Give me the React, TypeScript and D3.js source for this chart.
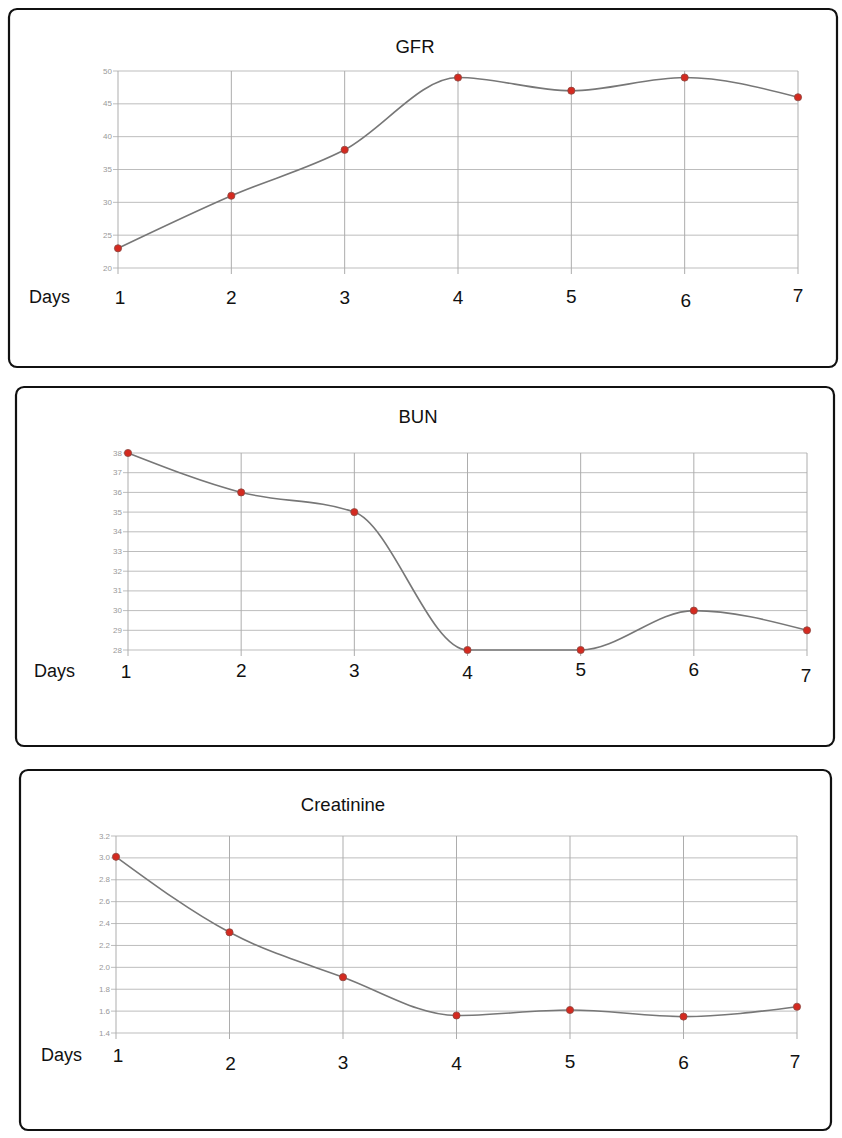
import * as d3 from 'd3';

const days = [1, 2, 3, 4, 5, 6, 7];

const gfrValues = [23, 31, 38, 49, 47, 49, 46];
const gfrTicks = [20, 25, 30, 35, 40, 45, 50];

const bunValues = [38, 36, 35, 28, 28, 30, 29];
const bunTicks = [28, 29, 30, 31, 32, 33, 34, 35, 36, 37, 38];

const creatinineValues = [3.01, 2.32, 1.91, 1.56, 1.61, 1.55, 1.64];
const creatinineTicks = [1.4, 1.6, 1.8, 2.0, 2.2, 2.4, 2.6, 2.8, 3.0, 3.2];

const W = 842;
const H = 1138;

type Panel = {
    title: string;
    values: number[];
    ticks: number[];
    fmt: (v: number) => string;
    box: [number, number, number, number];
    plot: [number, number, number, number]; // left, right, top, bottom
    titleX: number;
    titleY: number;
    daysX: number;
    labelY: number;
    labelDy: number[];
    labelDx: number[];
};

const panels: Panel[] = [
    {
        title: 'GFR',
        values: gfrValues,
        ticks: gfrTicks,
        fmt: d3.format('d'),
        box: [9, 9, 828, 358],
        plot: [118, 798, 71, 268],
        titleX: 415,
        titleY: 46,
        daysX: 29,
        labelY: 297,
        labelDy: [0, 0, 0, 0, -1, 3, -2],
        labelDx: [2, 0, 0, 0, 0, 1, 0]
    },
    {
        title: 'BUN',
        values: bunValues,
        ticks: bunTicks,
        fmt: d3.format('d'),
        box: [16, 387, 818, 359],
        plot: [128, 807, 453, 650],
        titleX: 418,
        titleY: 416,
        daysX: 34,
        labelY: 671,
        labelDy: [0, -1, -1, 1, -2, -2, 4],
        labelDx: [-2, 0, 0, 0, 0, 0, -1]
    },
    {
        title: 'Creatinine',
        values: creatinineValues,
        ticks: creatinineTicks,
        fmt: d3.format('.1f'),
        box: [20, 770, 811, 360],
        plot: [116, 797, 836, 1033],
        titleX: 343,
        titleY: 804,
        daysX: 41,
        labelY: 1055,
        labelDy: [0, 8, 7, 8, 6, 7, 6],
        labelDx: [2, 1, 0, 0, 0, 0, -2]
    }
];

function ChartPanel({ p }: { p: Panel }) {
    const [x0, x1, y0, y1] = p.plot;
    const x = d3.scaleLinear().domain([1, 7]).range([x0, x1]);
    const y = d3
        .scaleLinear()
        .domain([p.ticks[0], p.ticks[p.ticks.length - 1]])
        .range([y1, y0]);

    const line = d3
        .line<number>()
        .curve(d3.curveMonotoneX)
        .x((_d, i) => x(days[i]))
        .y((d) => y(d));

    const [bx, by, bw, bh] = p.box;

    return (
        <g>
            <rect x={bx} y={by} width={bw} height={bh} rx={8} fill="#fff" stroke="#111" strokeWidth={2.2} />
            <text x={p.titleX} y={p.titleY} textAnchor="middle" dominantBaseline="central" fontSize={18.5} fill="#111">
                {p.title}
            </text>
            {/* horizontal grid + y ticks */}
            {p.ticks.map((t) => (
                <g key={'h' + t}>
                    <line x1={x0 - 5} x2={x1} y1={y(t)} y2={y(t)} stroke="#bdbdbd" strokeWidth={1} />
                    <text x={x0 - 6} y={y(t)} textAnchor="end" dominantBaseline="central" fontSize={8} fill="#999">
                        {p.fmt(t)}
                    </text>
                </g>
            ))}
            {/* vertical grid */}
            {days.map((d) => (
                <line key={'v' + d} x1={x(d)} x2={x(d)} y1={y0} y2={y1 + 6} stroke="#adadad" strokeWidth={1} />
            ))}
            <path d={line(p.values) || ''} fill="none" stroke="#777" strokeWidth={1.6} />
            {p.values.map((v, i) => (
                <circle key={'c' + i} cx={x(days[i])} cy={y(v)} r={3.6} fill="#d42a20" stroke="#8a4a44" strokeWidth={0.8} />
            ))}
            <text x={p.daysX} y={p.labelY} dominantBaseline="central" fontSize={18} fill="#111">
                Days
            </text>
            {days.map((d, i) => (
                <text
                    key={'l' + d}
                    x={x(d) + p.labelDx[i]}
                    y={p.labelY + p.labelDy[i]}
                    textAnchor="middle"
                    dominantBaseline="central"
                    fontSize={19}
                    fill="#111"
                >
                    {d}
                </text>
            ))}
        </g>
    );
}

export default function App() {
    return (
        <div style={{ position: 'absolute', left: 0, top: 0, width: W, height: H, background: '#fff' }}>
            <svg width={W} height={H} style={{ display: 'block', fontFamily: '"Liberation Sans", Arial, sans-serif' }}>
                <rect width={W} height={H} fill="#fff" />
                {panels.map((p) => (
                    <ChartPanel key={p.title} p={p} />
                ))}
            </svg>
        </div>
    );
}
